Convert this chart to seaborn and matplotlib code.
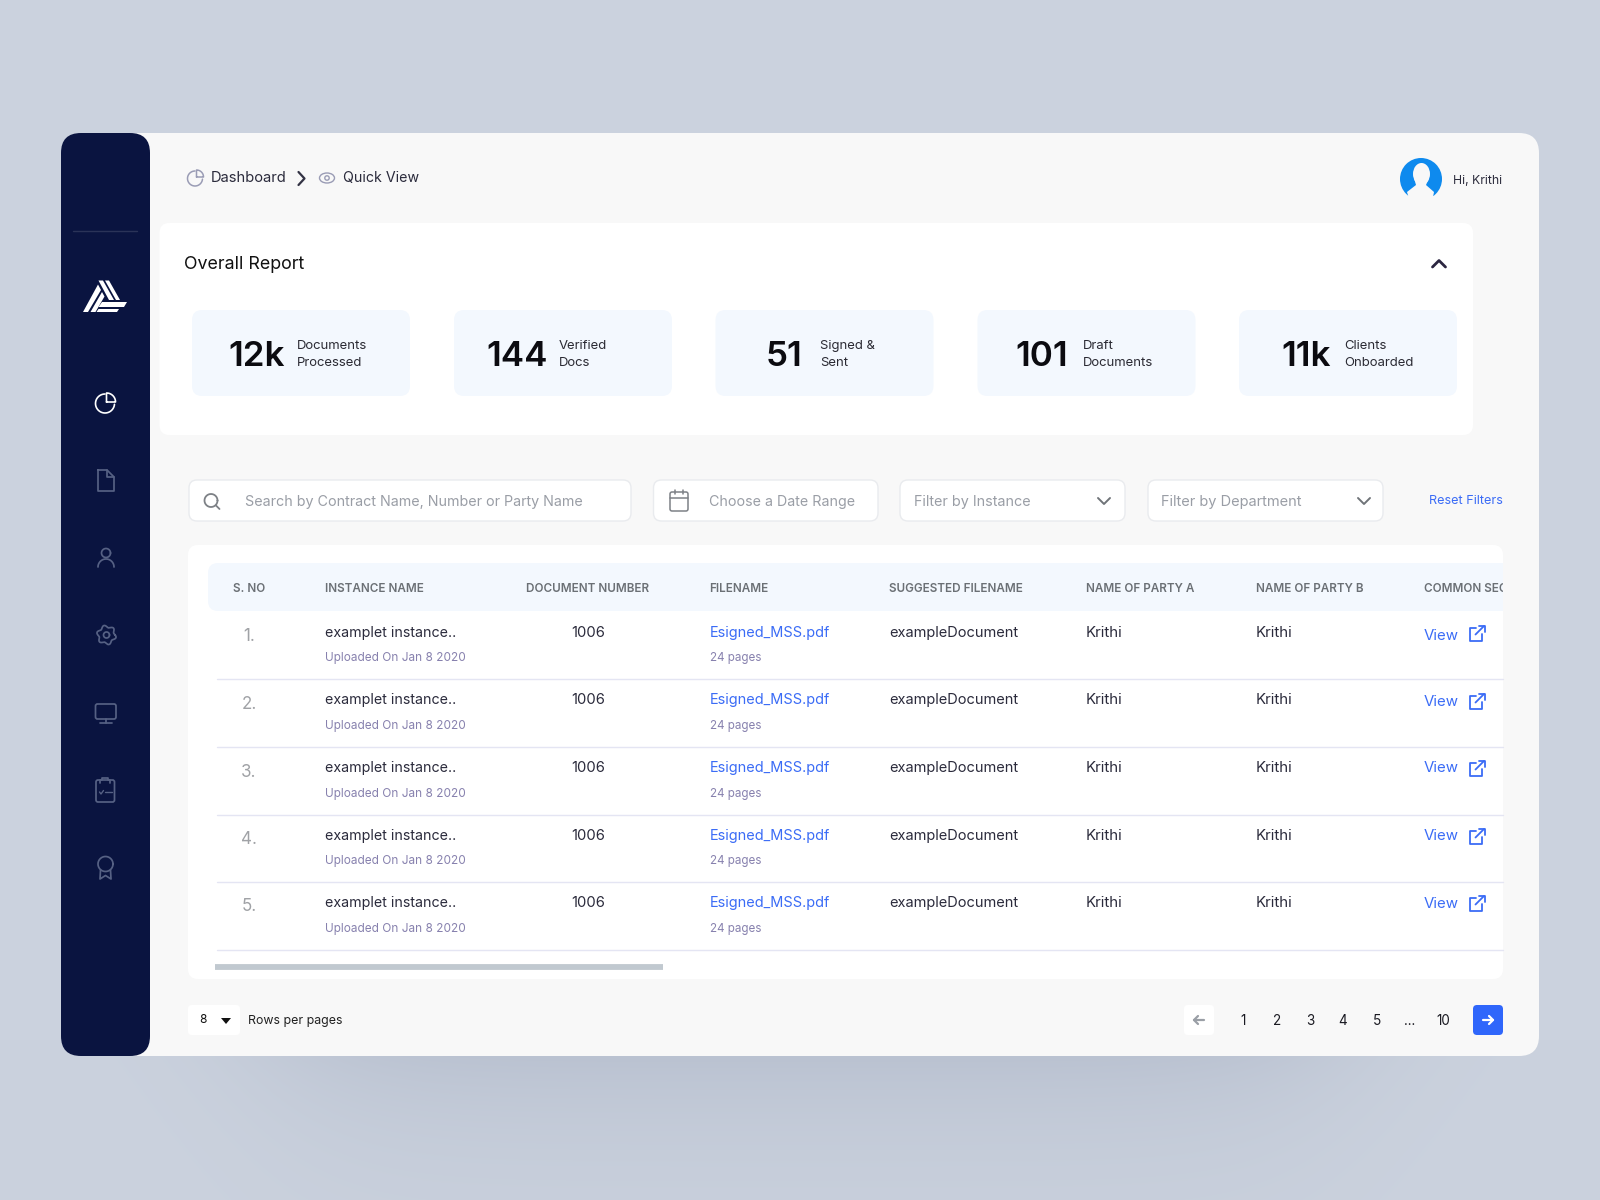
# Contract dashboard "Quick View" screen drawn on one pixel-sized axes

import numpy as np
import matplotlib
matplotlib.use('Agg')
import matplotlib.pyplot as plt
import seaborn as sns
from matplotlib.patches import FancyBboxPatch, Circle, Ellipse, Polygon, Rectangle
from matplotlib.transforms import Bbox

# --- data
kpi_values=['12k', '144', '51', '101', '11k']
kpi_line1=['Documents', 'Verified', 'Signed &', 'Draft', 'Clients']
kpi_line2=['Processed', 'Docs', 'Sent', 'Documents', 'Onboarded']
columns=['S. NO', 'INSTANCE NAME', 'DOCUMENT NUMBER', 'FILENAME', 'SUGGESTED FILENAME',
         'NAME OF PARTY A', 'NAME OF PARTY B', 'COMMON SEC']
row_numbers=['1.', '2.', '3.', '4.', '5.']
instances=['examplet instance..']*5
uploaded=['Uploaded On Jan 8 2020']*5
doc_numbers=['1006']*5
filenames=['Esigned_MSS.pdf']*5
pages=['24 pages']*5
suggested=['exampleDocument']*5
party_a=['Krithi']*5
party_b=['Krithi']*5
page_labels=['1', '2', '3', '4', '5', '...', '10']

BG='#CBD2DE'; PANEL='#F8F8F8'; NAVY='#0A1440'; ICON='#566184'; TINT='#F3F8FE'
BLUE='#3B6CF6'; MUTED='#8781AE'; HINT='#9A9EA6'; INK='#2B2B3C'; RULE='#E4E5F3'; EDGE='#E9EBEE'

sns.set_theme(style='white')
plt.rcParams['font.family']=['Inter', 'DejaVu Sans']

fig=plt.figure(figsize=(16,12), dpi=100)
ax=fig.add_axes([0,0,1,1])
ax.axis('off')

# soft shadow under the window
xx,yy=np.meshgrid(np.arange(1600), np.arange(1200))
shade=np.exp(-np.clip(yy-1056,0,None)/90.0)*(yy>=1040)
shade=shade/(1+np.exp(-(xx-280)/60.0))/(1+np.exp((xx-1330)/60.0))
base=np.array(matplotlib.colors.to_rgb(BG))
dark=np.array(matplotlib.colors.to_rgb('#BAC2D1'))
ax.imshow(base+shade[...,None]*(dark-base), extent=(0,1600,1200,0), aspect='auto', zorder=0)

def box(x0, y0, x1, y1, r, fc, ec='none', lw=0, **kw):
    p=FancyBboxPatch((x0,y0), x1-x0, y1-y0, boxstyle='round,pad=0,rounding_size=%g'%r, fc=fc, ec=ec, lw=lw, **kw)
    ax.add_patch(p)
    return p

def txt(x, y, s, px, color=INK, weight='normal', ha='left'):
    # y is the visual middle of the lowercase letters
    return ax.text(x, y+0.36*px, s, fontsize=px*0.72, color=color, fontweight=weight, ha=ha, va='baseline')

def line(xs, ys, color=ICON, lw=1.25):
    ax.plot(xs, ys, color=color, lw=lw, solid_capstyle='round', solid_joinstyle='round', zorder=4)

def arc(cx, cy, r, a0, a1, n=40):
    t=np.radians(np.linspace(a0,a1,n))
    return cx+r*np.cos(t), cy-r*np.sin(t)

def pie_icon(cx, cy, r, color, lw):
    xs,ys=arc(cx,cy,r,-5,-270)
    line(xs,ys,color,lw)
    xs,ys=arc(cx+1.5,cy-1.5,r-0.5,90,0)
    line(np.r_[cx+1.5,xs,cx+1.5],np.r_[cy-1.5,ys,cy-1.5],color,lw)

def chevron(cx, cy, w, h, color, lw):
    line([cx-w,cx,cx+w],[cy-h,cy+h,cy-h],color,lw)

def arrow(cx, cy, d, color):
    line([cx-5*d,cx+5*d],[cy,cy],color,1.6)
    line([cx+1*d,cx+5*d,cx+1*d],[cy-4,cy,cy+4],color,1.6)

def external(cx, cy):
    line([cx-1,cx-7,cx-7,cx+5,cx+5],[cy-5.5,cy-5.5,cy+7.5,cy+7.5,cy+1],BLUE,1.3)
    line([cx-1.5,cx+7],[cy+1.5,cy-7],BLUE,1.3)
    line([cx+1.5,cx+7.5,cx+7.5],[cy-7.5,cy-7.5,cy-1.5],BLUE,1.3)

# --- window and sidebar
box(120,133,1539,1056,20,PANEL,zorder=1)
box(61,133,150,1056,20,NAVY,zorder=1.1)
line([73,137],[231,231],'#2A3358',1.0)

# logo
for pts in ([(83,312),(88,312),(101,290),(98,284.5)], [(90.5,312),(95.5,312),(104.5,296.5),(102,292)],
            [(98.5,280.5),(103,280.5),(114,300),(109,300)], [(105,280.5),(109,280.5),(120,300),(116,300)],
            [(102,302),(127,302),(124,307),(98.5,307)], [(98.5,309),(119,309),(117,312),(96.5,312)]):
    ax.add_patch(Polygon(pts, fc='white', ec='none', zorder=2))

# sidebar icons
pie_icon(105,403.5,9.5,'white',1.2)
line([98,107,114,114,98,98],[470,470,477,491,491,470])
line([107,107,114],[470,477,477])
xs,ys=arc(106,553,4.5,0,360); line(xs,ys)
xs,ys=arc(106,567,8,180,0); line(xs,ys)
t=np.linspace(0,2*np.pi,200)
r=8.6+1.2*np.cos(6*(t+0.26))
line(106.5+r*np.cos(t),635-r*np.sin(t))
xs,ys=arc(106.5,635,3,0,360); line(xs,ys)
box(95.5,704,116,719,2,'none',ec=ICON,lw=1.25,zorder=4)
line([106,106],[719,723]); line([100,112],[723,723])
box(96,780,114.5,802,2,'none',ec=ICON,lw=1.25,zorder=4)
line([100,100,102,102,108,108,110,110],[783,780,780,778,778,780,780,783])
line([99.5,101,103.5],[792,794,790.5],ICON,1.0); line([105,112],[792,792],ICON,1.0)
xs,ys=arc(105.5,864,7.5,0,360); line(xs,ys)
line([100.5,100,100,105.5,111,111,110.5],[870,879,879,875.5,879,879,870])

# --- breadcrumb and user
pie_icon(195,178.5,7.5,'#9A9CB5',1.1)
txt(210.5,177,'Dashboard',14.7)
line([298.5,304.5,298.5],[172,178.5,185],'#333344',1.6)
ax.add_patch(Ellipse((327,178),15,10,fc='none',ec='#9A9CB5',lw=1.0,zorder=4))
ax.add_patch(Circle((327,178),2.2,fc='none',ec='#9A9CB5',lw=1.0,zorder=4))
txt(343,177,'Quick View',14.2)

ax.add_patch(Circle((1421,179),21,fc='#0E8AEE',ec='none',zorder=2))
ax.add_patch(Ellipse((1421.5,174),17,22,fc=PANEL,ec='none',zorder=2.1))
ax.add_patch(Polygon([(1414,178),(1429,178),(1426,185),(1434,192),(1432,202),(1410,202),(1407,192),(1416,185)],fc=PANEL,ec='none',zorder=2.1))
ax.add_patch(Rectangle((1398,195.5),46,6,fc=PANEL,ec='none',zorder=2.1))
txt(1453,180,'Hi, Krithi',12.2)

# --- overall report card
box(159.5,223,1473,435,10,'white',zorder=1.2)
txt(183.5,263,'Overall Report',17.8,'#111111')
line([1432.5,1439,1445.5],[267,260.5,267],'#2B2540',2.0)

card_x=[192,454,715.5,977.5,1239]
num_right=[285,547.5,802,1068,1331]
label_x=[297,559,820,1083,1344]
for i in range(5):
    box(card_x[i],310,card_x[i]+218,396,10,TINT,zorder=1.3)
    ax.text(num_right[i],366,kpi_values[i],fontsize=25.2,color='#0B0B10',fontweight='semibold',ha='right',va='baseline')
    txt(label_x[i],344.5,kpi_line1[i],13.1,'#2A2A33')
    txt(label_x[i],361,kpi_line2[i],13.1,'#2A2A33')

# --- filter row
for x0,x1 in [(189,631),(653.5,878),(900,1125),(1148,1383)]:
    box(x0,480,x1,521,8,'white',ec=EDGE,lw=1.0,zorder=1.2)
xs,ys=arc(211,500.5,6.5,0,360); line(xs,ys,'#7D8186',1.3)
line([216,219.5],[505.5,509],'#7D8186',1.3)
txt(245,501,'Search by Contract Name, Number or Party Name',14.35,HINT)
box(670,492,688,511,2,'none',ec='#7D8186',lw=1.1,zorder=4)
line([670,688],[497.5,497.5],'#7D8186',1.1)
line([675,675],[489.5,494],'#7D8186',1.1); line([683,683],[489.5,494],'#7D8186',1.1)
txt(709,501,'Choose a Date Range',14.3,HINT)
txt(914,500.5,'Filter by Instance',14.4,HINT)
chevron(1104,501,6,3,'#6F7378',1.4)
txt(1161,500.5,'Filter by Department',14.6,HINT)
chevron(1364,501,6,3,'#6F7378',1.4)
txt(1429,499,'Reset Filters',12.7,BLUE)

# --- table
box(188,545,1503,979,10,'white',zorder=1.2)
head=box(208,563,1530,611,10,TINT,zorder=1.3)
head.set_clip_path(Rectangle((189,545),1314,434,transform=ax.transData))

head_x=[233,325,526,709,889,1086,1256,1424]
clip=Bbox([[0,0],[1503,1200]])
for x,name in zip(head_x,columns):
    t=txt(x,588,name,11.7,'#6B7075','semibold')
    t.set_clip_box(clip); t.set_clip_on(True)

main_y=[632,699,767,835,902]
sub_y=[657,725,793,860,928]
num_y=[635,703,771,838,905]
view_y=[634.5,700.5,767,835,903]
icon_y=[633,701,768,836,903]
rules=[679,747,815,882,950]
for i in range(5):
    txt(249,num_y[i],row_numbers[i],17,'#A0A2A6',ha='center')
    txt(325,main_y[i],instances[i],14.3,INK)
    txt(325,sub_y[i],uploaded[i],11.8,MUTED)
    txt(588,main_y[i],doc_numbers[i],14.8,INK,ha='center')
    txt(709.5,main_y[i],filenames[i],14.5,BLUE)
    txt(709.5,sub_y[i],pages[i],11.6,MUTED)
    txt(889,main_y[i],suggested[i],14.6,INK)
    txt(1086,main_y[i],party_a[i],15,INK)
    txt(1256,main_y[i],party_b[i],15,INK)
    txt(1424,view_y[i],'View',15,BLUE)
    external(1477,icon_y[i])
    sns.lineplot(x=[217,1503],y=[rules[i],rules[i]],ax=ax,color=RULE,lw=1.0,estimator=None,legend=False,zorder=3)
sns.lineplot(x=[215,663],y=[967,967],ax=ax,color='#C1C9D0',lw=4.2,estimator=None,legend=False,zorder=3,solid_capstyle='butt')

# --- footer
box(188,1005,240,1035,4,'white',zorder=1.2)
txt(199,1019,'8',12,'#111111')
ax.add_patch(Polygon([(221,1018),(231,1018),(226,1024)],fc='#111111',ec='none',zorder=3))
txt(248,1020,'Rows per pages',12.4,'#222222')
box(1184,1005,1214,1035,4,'white',zorder=1.2)
arrow(1199,1020,-1,'#9A9FA6')
for x,label in zip([1243,1277,1310,1343,1376.5,1410,1443],page_labels):
    txt(x,1020,label,13.5,'#1A1A22',ha='center')
box(1473,1005,1503,1035,4,'#2F66FB',zorder=1.2)
arrow(1488,1020,1,'white')

ax.set_xlim(0,1600)
ax.set_ylim(1200,0)
fig.savefig('out.png', dpi=100)
